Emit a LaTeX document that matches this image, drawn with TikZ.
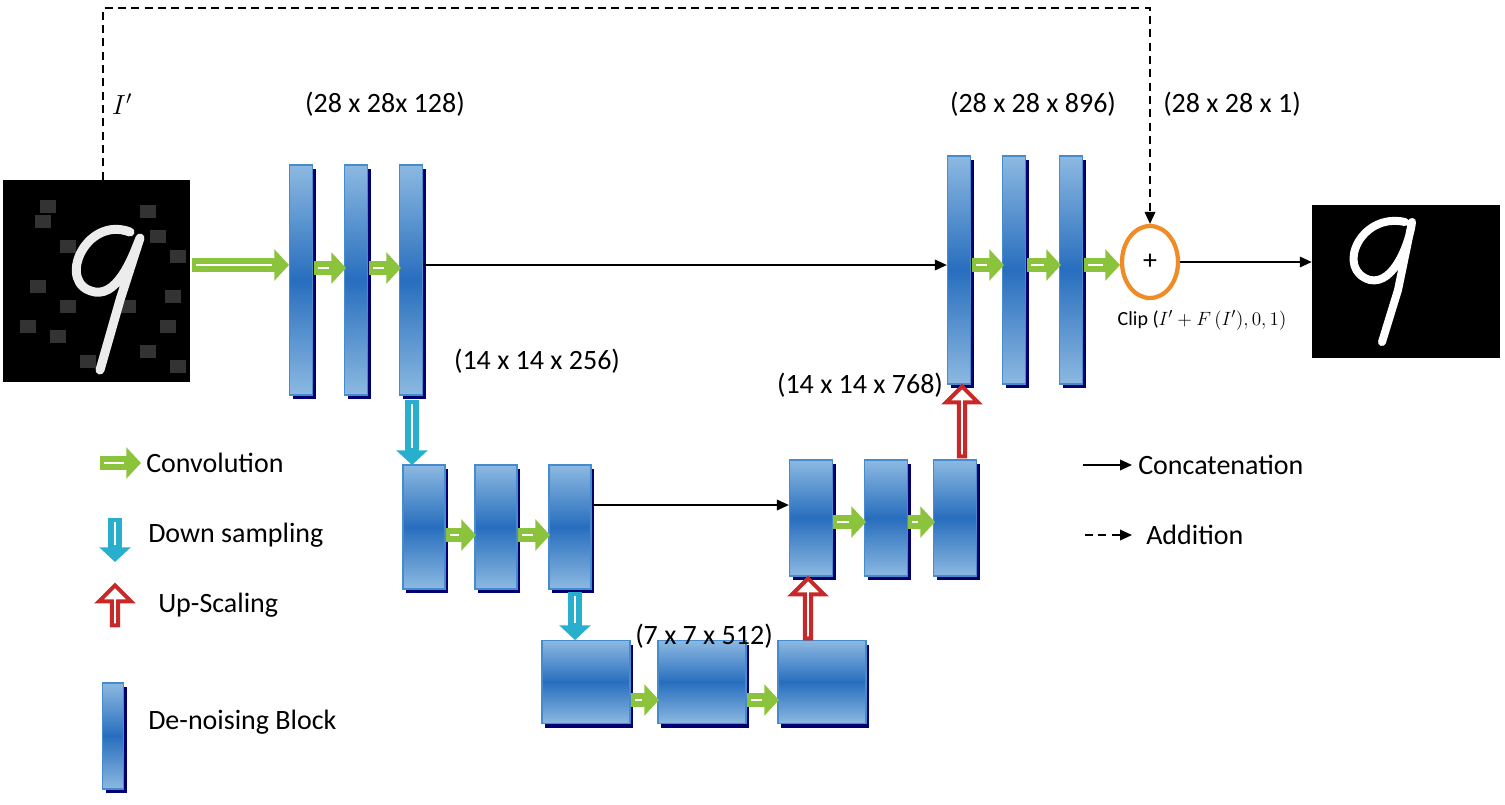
\documentclass[tikz,border=0pt]{standalone}
\usepackage{fontspec}
\setmainfont{Carlito}
\usetikzlibrary{arrows.meta,shapes.arrows,shapes.geometric,shadows}
\definecolor{bdark}{RGB}{40,110,190}
\definecolor{blight}{RGB}{140,185,225}
\definecolor{bedge}{RGB}{70,140,205}
\definecolor{gr}{RGB}{140,195,60}
\definecolor{cy}{RGB}{40,175,205}
\definecolor{rd}{RGB}{200,40,40}
\definecolor{org}{RGB}{240,140,40}
\newcommand{\px}{0.75pt}
\tikzset{
 blk/.style={draw=bedge, line width=1pt, top color=blight, bottom color=blight, middle color=bdark, inner sep=0pt,
   drop shadow={shadow xshift=2.5pt, shadow yshift=-3pt, fill=blue!45!black, opacity=1}},
 lbl/.style={font=\fontsize{21}{24}\selectfont, inner sep=0pt},
 garr/.style={line width=11pt, -{Triangle[length=11pt 0 0,width=23pt 0 0]}},
 ginner/.style={white, line width=1.8pt},
 conc/.style={-{Triangle[length=9pt 0 0,width=8pt 0 0]}, line width=1.1pt},
 dsh/.style={dash pattern=on 6pt off 4pt, line width=1.1pt},
 uparr/.style={single arrow, draw=rd, fill=white, line width=3pt, single arrow head extend=6pt, minimum width=24pt, inner sep=0pt, shape border rotate=90},
}
\newcommand{\gar}[3]{% x1 x2 y
 \draw[garr, gr] (#1,#3) -- (#2,#3);
 \draw[ginner] (#1+4,#3) -- (#2-17,#3);}
\newcommand{\var}[3]{% x y1 y2
 \draw[garr, cy] (#1,#2) -- (#1,#3);
 \draw[ginner] (#1,#2+4) -- (#1,#3-17);}
\begin{document}
\begin{tikzpicture}[x=0.75pt,y=-0.75pt]
\useasboundingbox (0,0) rectangle (1505,804);
% images
\fill[black] (3,180) rectangle (190,382);
\foreach \a/\b in {40/200,140/205,150/230,60/240,170/250,30/280,120/300,160/320,50/330,140/345,170/360,60/300,20/320,80/355,165/290,35/215}
  \fill[gray!40!black] (\a,\b) rectangle ++(16,13);
\draw[white!85!gray, line width=9*\px, line cap=round, line join=round] (130,232) .. controls (85,215) and (55,285) .. (95,292) .. controls (120,296) and (135,250) .. (140,238) -- (120,300) -- (100,370);
\node (inimg) at (96,281) [minimum width=187*\px, minimum height=202*\px, inner sep=0pt] {};
\fill[black] (1312,205) rectangle (1500,358);
\draw[white, line width=8*\px, line cap=round, line join=round] (1405,222) .. controls (1360,212) and (1335,270) .. (1370,280) .. controls (1395,285) and (1410,240) .. (1412,222) -- (1398,290) -- (1382,342);
\node (outimg) at (1406,281) [minimum width=188*\px, minimum height=153*\px, inner sep=0pt] {};
% level1 left
\node[blk, minimum width=23*\px, minimum height=230*\px] (a1) at (301,280) {};
\node[blk, minimum width=23*\px, minimum height=230*\px] (a2) at (356,280) {};
\node[blk, minimum width=23*\px, minimum height=230*\px] (a3) at (411,280) {};
% level1 right
\node[blk, minimum width=23*\px, minimum height=228*\px] (b1) at (959,270) {};
\node[blk, minimum width=23*\px, minimum height=228*\px] (b2) at (1014,270) {};
\node[blk, minimum width=23*\px, minimum height=228*\px] (b3) at (1071,270) {};
% level2 left
\node[blk, minimum width=42*\px, minimum height=124*\px] (c1) at (424,527) {};
\node[blk, minimum width=42*\px, minimum height=124*\px] (c2) at (496,527) {};
\node[blk, minimum width=42*\px, minimum height=124*\px] (c3) at (570,527) {};
% level2 right
\node[blk, minimum width=43*\px, minimum height=116*\px] (d1) at (811,518) {};
\node[blk, minimum width=43*\px, minimum height=116*\px] (d2) at (886,518) {};
\node[blk, minimum width=43*\px, minimum height=116*\px] (d3) at (955,518) {};
% level3
\node[blk, minimum width=88*\px, minimum height=83*\px] (e1) at (586,682) {};
\node[blk, minimum width=88*\px, minimum height=83*\px] (e2) at (702,682) {};
\node[blk, minimum width=88*\px, minimum height=83*\px] (e3) at (822,682) {};
% sum
\node[draw=org, line width=3.2pt, ellipse, minimum width=56*\px, minimum height=72*\px, inner sep=0pt, font=\fontsize{21}{24}\selectfont] (sum) at (1150,262) {+};
% green arrows
\gar{192}{289}{265}
\gar{314}{346}{268}
\gar{369}{401}{268}
\gar{972}{1004}{265}
\gar{1027}{1061}{265}
\gar{1084}{1120}{265}
\gar{446}{476}{535}
\gar{518}{550}{535}
\gar{833}{866}{522}
\gar{908}{935}{522}
\gar{631}{659}{700}
\gar{747}{779}{700}
% concatenation
\draw[conc] (a3.east |- 0,265) -- (b1.west |- 0,265);
\draw[conc] (c3.east |- 0,505) -- (d1.west |- 0,505);
\draw[conc] (sum.east) -- (outimg.west |- sum.east);
% addition
\draw[dsh, -{Triangle[length=9pt 0 0,width=8pt 0 0]}] (inimg.north -| 103,0) -- (103,8) -- (1150,8) -- (sum.north);
% down/up
\var{412}{400}{465}
\var{575}{592}{640}
\node[uparr, minimum height=60*\px] (up1) at (808,610) {};
\node[uparr, minimum height=70*\px] (up2) at (962,423) {};
% labels
\node[lbl] at (385,104) {(28 x 28x 128)};
\node[lbl] at (1033,104) {(28 x 28 x 896)};
\node[lbl] at (1232,104) {(28 x 28 x 1)};
\node[lbl] at (537,361) {(14 x 14 x 256)};
\node[lbl] at (860,385) {(14 x 14 x 768)};
\node[lbl] at (704,636) {(7 x 7 x 512)};
\node[lbl] at (122,104) {$I'$};
\node[lbl, font=\fontsize{15}{18}\selectfont] at (1202,320) {Clip ($I' + F\,(I'), 0, 1)$};
% legend
\gar{100}{141}{463}
\node[lbl, anchor=west] at (146,463) {Convolution};
\var{115}{518}{562}
\node[lbl, anchor=west] at (148,535) {Down sampling};
\node[uparr, minimum height=40*\px] (lup) at (115,607) {};
\node[lbl, anchor=west] at (158,605) {Up-Scaling};
\node[blk, minimum width=21*\px, minimum height=106*\px] (lblk) at (113,736) {};
\node[lbl, anchor=west] at (148,722) {De-noising Block};
\coordinate (lc1) at (1083,465); \coordinate (lc2) at (1132,465);
\draw[conc] (lc1) -- (lc2);
\node[lbl, anchor=west] at (1138,465) {Concatenation};
\coordinate (la1) at (1085,535); \coordinate (la2) at (1132,535);
\draw[dsh, -{Triangle[length=9pt 0 0,width=8pt 0 0]}] (la1) -- (la2);
\node[lbl, anchor=west] at (1146,535) {Addition};
\end{tikzpicture}
\end{document}
